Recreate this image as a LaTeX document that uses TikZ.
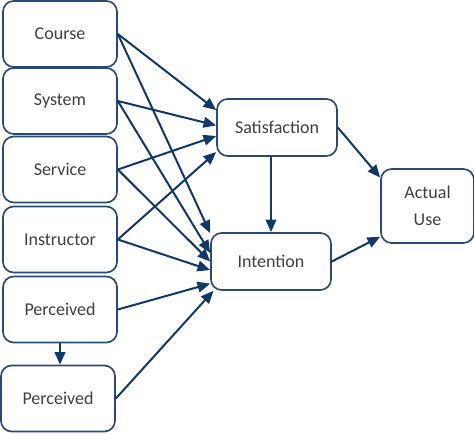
\documentclass[tikz,border=0pt]{standalone}
\usepackage{fontspec}
\setmainfont{Carlito}
\usepackage{tikz}
\usetikzlibrary{arrows.meta, shapes}

\definecolor{boxline}{HTML}{2A4A76}
\definecolor{arrowline}{HTML}{10386A}
\definecolor{txt}{HTML}{404040}

\begin{document}
\begin{tikzpicture}[x=0.75pt, y=0.75pt]
			\tikzstyle{every node} = [font = \fontsize{13.5}{20}\selectfont, text = txt]
			\tikzstyle{factor} = [draw = boxline, line width = 1.25pt, rounded corners = 8pt,
				minimum width = 85.5pt, minimum height = 49.5pt, inner sep = 0pt]
			\tikzstyle{outcome} = [factor, minimum width = 90pt, minimum height = 42.75pt]
			\tikzstyle{link} = [draw = arrowline, line width = 1.5pt,
				-{Triangle[length = 9.5pt, width = 8pt]}]
				\useasboundingbox (0,0) rectangle (474,433);
				% left column
				\node[factor] (course) at (60,399) {Course};
				\node[factor] (system) at (60,332) {System};
				\node[factor] (service) at (60,263.5) {Service};
				\node[factor] (instructor) at (60,193.5) {Instructor};
				\node[factor] (perc1) at (60,123.5) {Perceived};
				\node[factor] (perc2) at (58,34.5) {Perceived};
				% middle and right
				\node[outcome] (sat) at (277,305.5) {Satisfaction};
				\node[outcome] (int) at (271,171.5) {Intention};
				\node[factor, minimum width = 69.75pt, minimum height = 55.5pt,
					align = center] (use) at (427.5,227) {Actual\\Use};
				% into satisfaction
				\path[link] (course.east) -- (sat.164);
				\path[link] (system.east) -- (sat.178);
				\path[link] (service.east) -- (sat.188);
				\path[link] (instructor.east) -- (sat.202);
				% into intention
				\path[link] (course.east) -- (int.155);
				\path[link] (system.east) -- (int.172);
				\path[link] (service.east) -- (int.180);
				\path[link] (instructor.east) -- (int.188);
				\path[link] (perc1.east) -- (int.200);
				\path[link] (perc2.east) -- (int.207);
				\path[link] (perc1.south) -- (perc1.south |- perc2.north);
				\path[link] (sat.south -| int.north) -- (int.north);
				% into actual use
				\path[link] (sat.east) -- (use.149);
				\path[link] (int.east) -- (use.213);
			\end{tikzpicture}
\end{document}
